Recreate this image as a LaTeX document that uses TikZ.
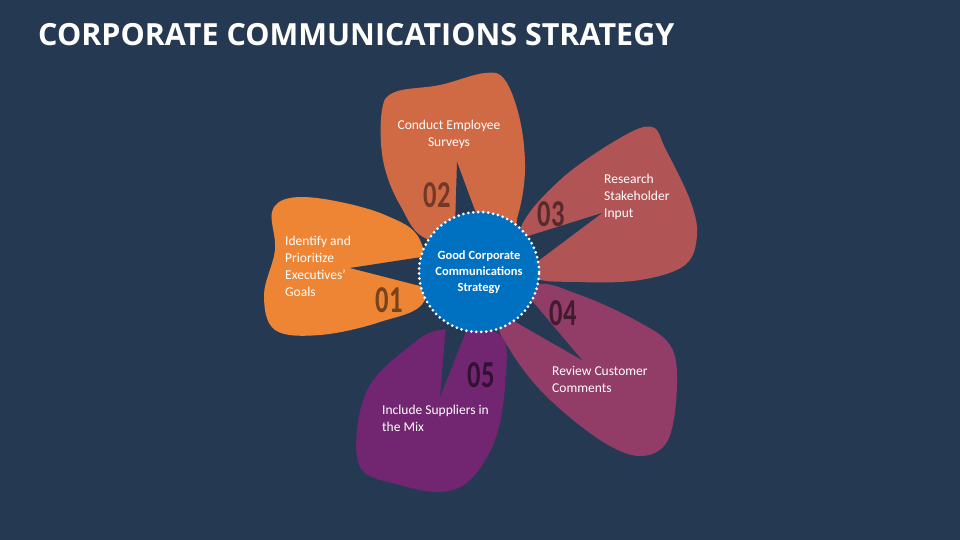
\documentclass[tikz,border=0pt]{standalone}
\usepackage{fontspec}
\setmainfont{Carlito}
\newfontfamily\titlefont{Open Sans}
\begin{document}
\begin{tikzpicture}[x=1pt,y=-1pt,
  notch/.style={fill=bgc,draw=none},
  ptext/.style={text=white,font=\fontsize{13.5}{17}\selectfont,align=left,inner sep=0pt,anchor=north west},
  num/.style={font=\fontsize{38}{38}\selectfont\bfseries,xscale=0.7,inner sep=0pt}]
\definecolor{bgc}{HTML}{253A52}
\definecolor{c1}{HTML}{EE8535}
\definecolor{c2}{HTML}{D06A45}
\definecolor{c3}{HTML}{B05456}
\definecolor{c4}{HTML}{913D67}
\definecolor{c5}{HTML}{722671}
\definecolor{cb}{HTML}{0070C0}
\fill[bgc] (0,0) rectangle (960,540);
\useasboundingbox (0,0) rectangle (960,540);
\node[anchor=west,text=white,font=\titlefont\bfseries\fontsize{30.5}{33}\selectfont,inner sep=0pt] (title) at (38,35) {CORPORATE COMMUNICATIONS STRATEGY};
% petals
\fill[c2] plot[smooth cycle,tension=0.6] coordinates{(430,240) (400,205) (383,160) (382,110) (395,92) (440,85) (485,73) (505,80) (520,120) (525,170) (518,215) (505,235)};
\fill[notch] (457,162) -- (455,228) -- (480,224) -- cycle;
\fill[c3] plot[smooth cycle,tension=0.6] coordinates{(520,230) (560,180) (620,138) (652,127) (666,150) (690,200) (697,235) (685,265) (640,280) (580,282) (530,275)};
\fill[notch] (602,213) -- (522,238) -- (534,264) -- cycle;
\fill[c4] plot[smooth cycle,tension=0.6] coordinates{(535,285) (580,295) (635,320) (670,345) (677,385) (668,440) (640,456) (600,440) (545,395) (510,350) (500,320)};
\fill[notch] (582,360) -- (512,320) -- (533,302) -- cycle;
\fill[c5] plot[smooth cycle,tension=0.6] coordinates{(440,330) (405,350) (370,385) (357,430) (362,470) (400,485) (440,492) (470,480) (495,440) (505,385) (500,335)};
\fill[notch] (440,397) -- (446,325) -- (468,326) -- cycle;
\fill[c1] plot[smooth cycle,tension=0.6] coordinates{(420,240) (385,215) (330,200) (290,198) (272,212) (275,250) (264,295) (275,330) (320,335) (380,322) (425,300)};
\fill[notch] (350,268) -- (428,256) -- (428,288) -- cycle;
% center
\node[circle,fill=cb,minimum size=120pt,draw=white,line width=3pt,dash pattern=on 0pt off 5pt,line cap=round,
  text=white,font=\bfseries\fontsize{12.5}{16}\selectfont,align=center] (c) at (479,272) {Good Corporate\\Communications\\Strategy};
% texts
\node[ptext] (t1) at (285,236) {Identify and\\Prioritize\\Executives’\\Goals};
\node[ptext,align=center,anchor=north] (t2) at (449,120) {Conduct Employee\\Surveys};
\node[ptext] (t3) at (604,174) {Research\\Stakeholder\\Input};
\node[ptext] (t4) at (552,366) {Review Customer\\Comments};
\node[ptext] (t5) at (382,405) {Include Suppliers in\\the Mix};
% numbers
\node[num,text=c1!50!black] (n1) at (389,300) {01};
\node[num,text=c2!55!black] (n2) at (437,195) {02};
\node[num,text=c3!50!black] (n3) at (551,214) {03};
\node[num,text=c4!45!black] (n4) at (563,313) {04};
\node[num,text=c5!45!black] (n5) at (481,375) {05};
\end{tikzpicture}
\end{document}
